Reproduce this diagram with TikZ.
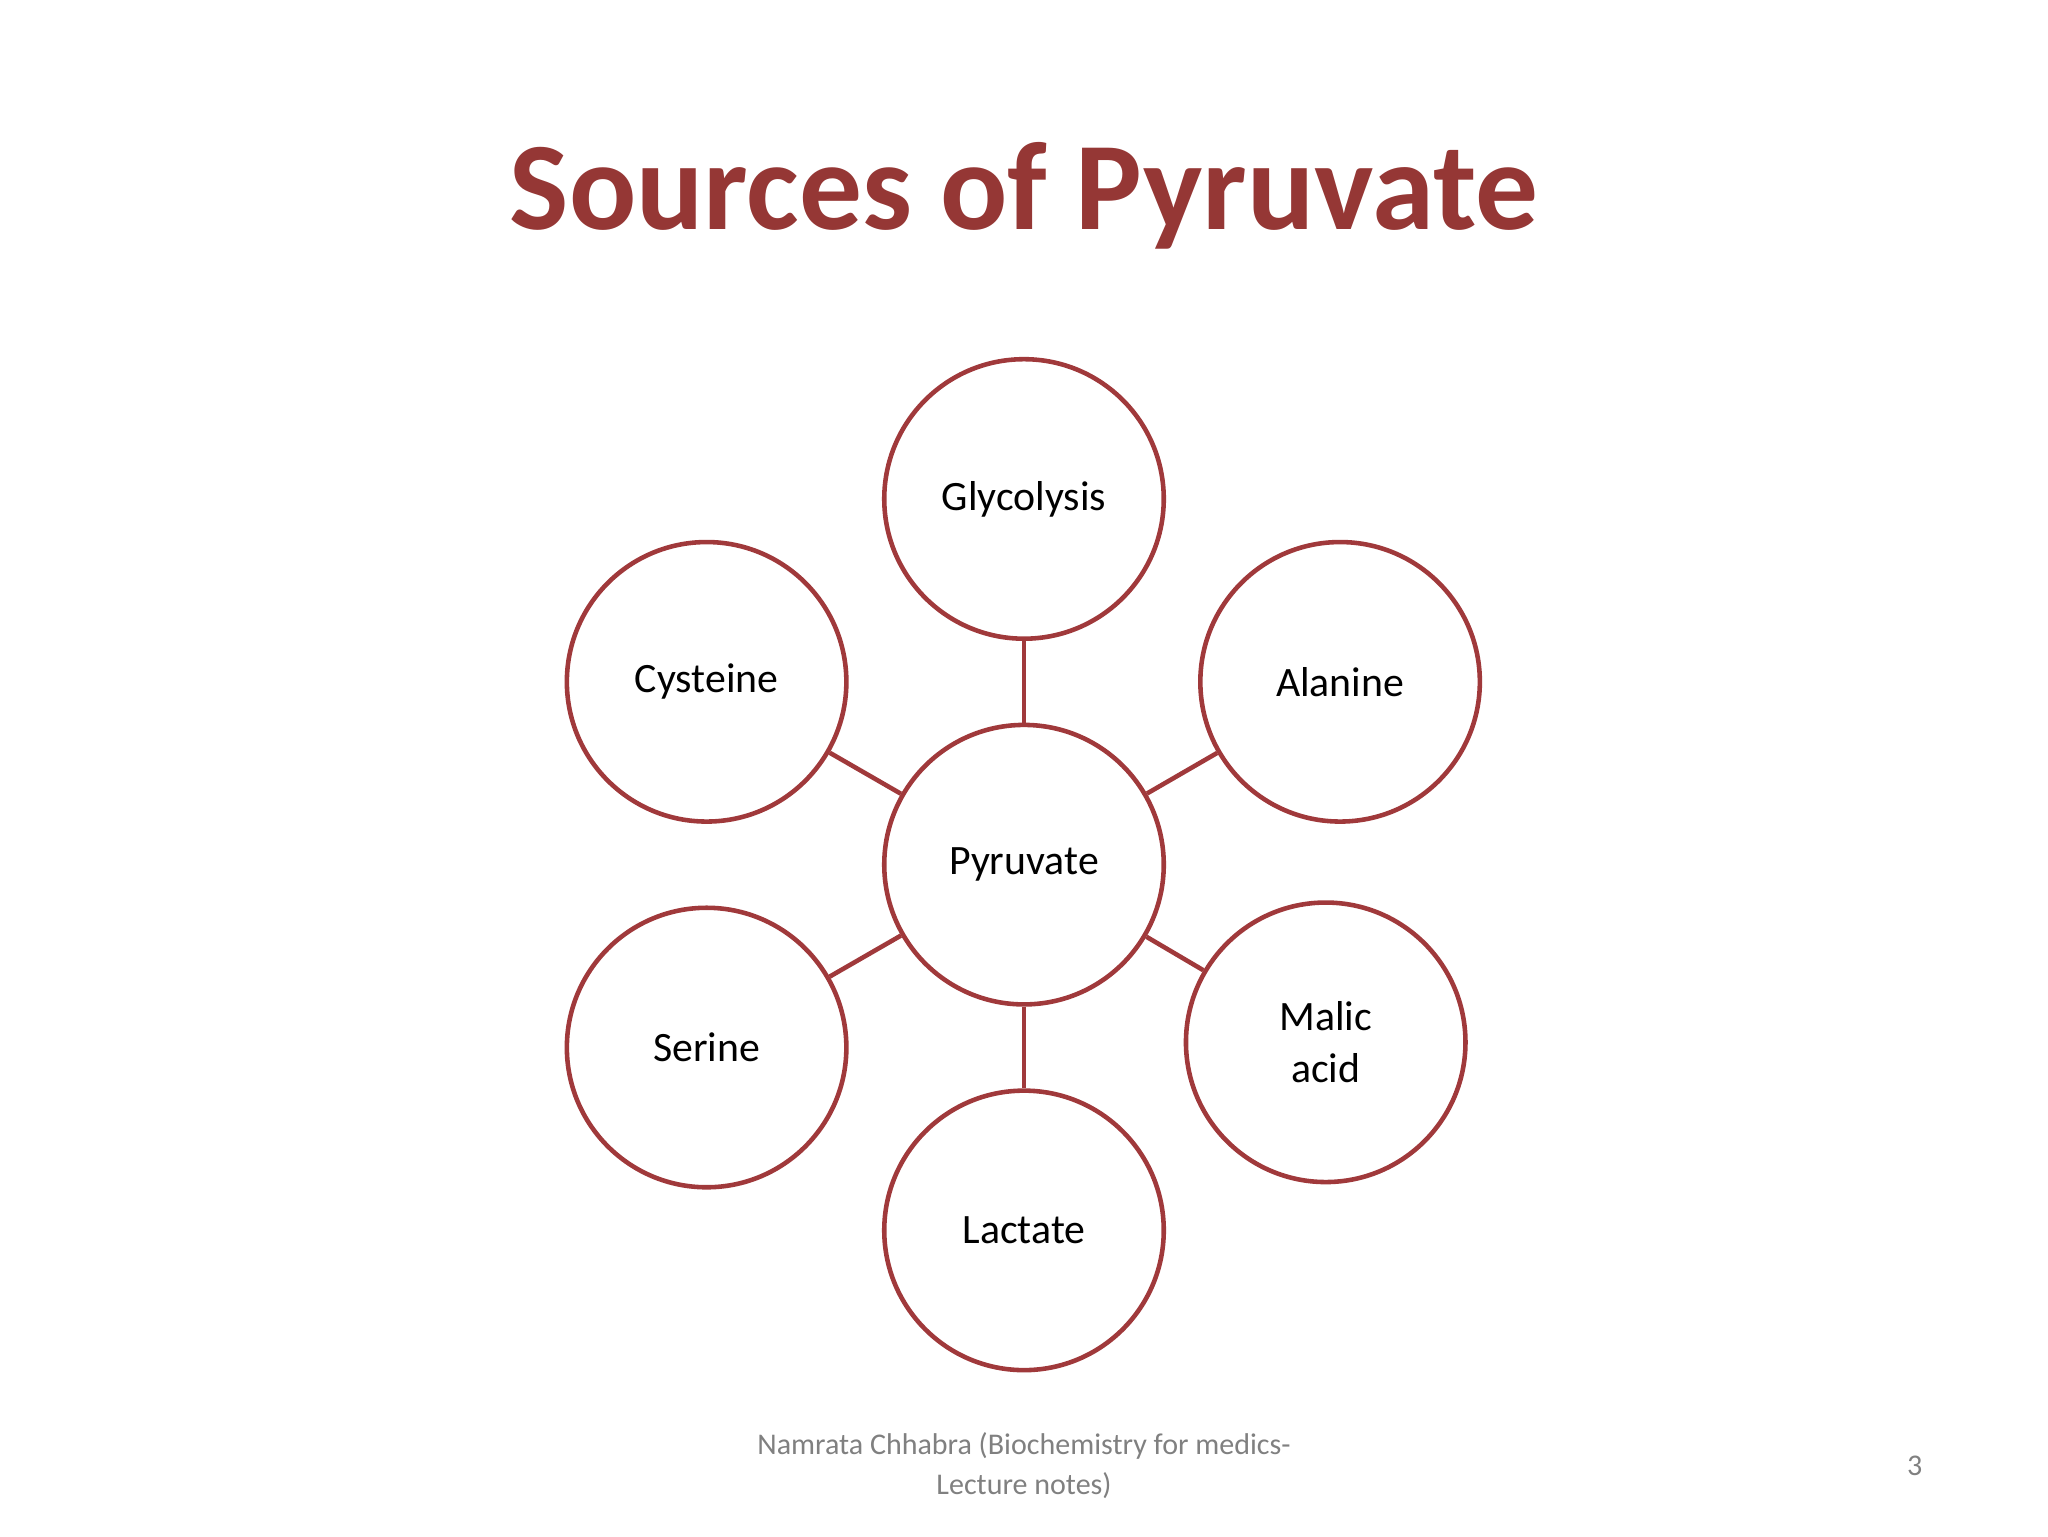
\documentclass[tikz,border=0pt]{standalone}
\usepackage{fontspec}
\setmainfont{Carlito}
\definecolor{red1}{HTML}{A0393B}
\definecolor{title}{HTML}{953735}
\begin{document}
\begin{tikzpicture}[x=1pt,y=-1pt,
  circ/.style={circle,draw=red1,line width=3.5pt,minimum size=214pt,inner sep=0pt,align=center,font=\fontsize{32}{40}\selectfont},
  link/.style={draw=red1,line width=3.5pt}]
\useasboundingbox (0,0) rectangle (1568,1176);
\node[font=\fontsize{96}{110}\selectfont\bfseries,text=title] (t) at (784,150) {Sources of Pyruvate};
\node[circ] (p) at (784,662) {Pyruvate};
\node[circ] (g) at (784,382) {Glycolysis};
\node[circ] (c) at (541,522) {Cysteine};
\node[circ] (a) at (1026,522) {Alanine};
\node[circ] (s) at (541,802) {Serine};
\node[circ] (m) at (1015,798) {Malic\\acid};
\node[circ] (l) at (784,942) {Lactate};
\foreach \n in {g,c,a,s,m,l} \draw[link] (p) -- (\n);
\node[font=\fontsize{23}{31}\selectfont,text=gray,align=center] (f) at (784,1122) {Namrata Chhabra (Biochemistry for medics-\\Lecture notes)};
\node[font=\fontsize{23}{28}\selectfont,text=gray] (n) at (1466,1122) {3};
\end{tikzpicture}
\end{document}
